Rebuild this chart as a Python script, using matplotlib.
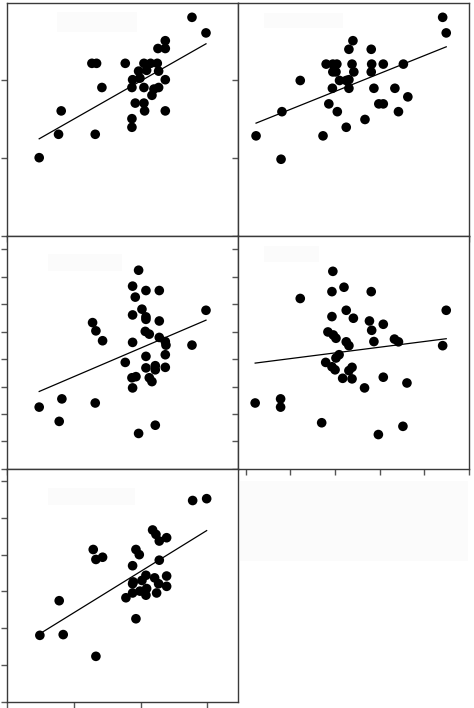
"""Five scatter panels with least-squares lines, 3x2 grid, last cell empty."""
import matplotlib
matplotlib.use("Agg")
import matplotlib.pyplot as plt  # noqa: E402
import numpy as np
from matplotlib.patches import Rectangle

# --- data (axis units: tick spacing = 1) ---
p1_x = [2.77, 2.98, 2.37, 2.26, 2.37, 1.27, 1.34, 1.77, 2.05, 2.15, 2.25,
        1.97, 2.09, 2.27, 1.88, 1.99, 2.37, 1.42, 1.87, 2.05, 2.27, 2.20,
        2.17, 1.92, 2.05, 0.81, 2.06, 2.37, 1.87, 1.87, 0.77, 1.32, 0.48]
p1_y = [2.80, 2.60, 2.50, 2.40, 2.40, 2.21, 2.21, 2.21, 2.21, 2.21, 2.21,
        2.11, 2.12, 2.11, 2.00, 2.02, 2.00, 1.90, 1.90, 1.90, 1.90, 1.88,
        1.80, 1.70, 1.70, 1.60, 1.60, 1.60, 1.50, 1.39, 1.30, 1.30, 1.00]

p2_x = [4.41, 4.49, 2.40, 2.31, 2.81, 1.80, 1.95, 2.04, 2.38, 2.82, 3.08,
        3.53, 1.95, 2.02, 2.42, 2.81, 1.22, 2.10, 2.25, 2.31, 1.94, 2.31,
        2.87, 3.34, 3.63, 1.86, 2.98, 3.08, 0.81, 2.05, 3.42, 2.67, 2.25,
        0.23, 1.73, 0.79]
p2_y = [2.80, 2.60, 2.50, 2.39, 2.39, 2.20, 2.20, 2.20, 2.20, 2.20, 2.20,
        2.20, 2.10, 2.10, 2.10, 2.10, 1.99, 1.99, 1.99, 2.00, 1.89, 1.89,
        1.89, 1.89, 1.78, 1.69, 1.69, 1.69, 1.59, 1.59, 1.59, 1.49, 1.39,
        1.28, 1.28, 0.98]

p3_x = [1.97, 1.88, 2.08, 2.28, 1.92, 2.98, 2.02, 1.88, 2.08, 2.08, 2.28,
        1.28, 1.33, 2.07, 2.13, 1.43, 1.88, 2.28, 2.37, 2.38, 2.77, 2.08,
        2.37, 1.77, 2.22, 2.22, 2.08, 2.37, 1.93, 1.87, 2.13, 2.17, 1.88,
        0.82, 0.48, 1.32, 0.78, 1.97, 2.22]
p3_y = [7.24, 6.66, 6.50, 6.50, 6.26, 5.78, 5.82, 5.61, 5.54, 5.45, 5.39,
        5.33, 5.03, 5.01, 4.91, 4.67, 4.61, 4.79, 4.64, 4.51, 4.51, 4.10,
        4.16, 3.88, 3.76, 3.61, 3.68, 3.70, 3.36, 3.32, 3.32, 3.18, 2.95,
        2.55, 2.25, 2.40, 1.73, 1.29, 1.59]

p4_x = [1.95, 1.93, 2.20, 2.81, 1.22, 4.49, 2.25, 1.93, 2.41, 2.77, 3.08,
        2.82, 1.84, 1.96, 2.02, 2.25, 2.31, 2.87, 3.33, 3.42, 4.41, 2.09,
        2.02, 1.79, 1.93, 2.00, 2.38, 2.31, 2.17, 2.38, 3.08, 3.61, 2.66,
        0.21, 0.78, 0.78, 1.70, 3.52, 2.97]
p4_y = [7.20, 6.46, 6.62, 6.46, 6.21, 5.78, 5.78, 5.55, 5.49, 5.39, 5.27,
        5.05, 4.99, 4.88, 4.76, 4.63, 4.49, 4.64, 4.73, 4.63, 4.49, 4.16,
        4.04, 3.88, 3.72, 3.61, 3.70, 3.58, 3.30, 3.28, 3.34, 3.13, 2.95,
        2.40, 2.55, 2.25, 1.68, 1.55, 1.25]

p5_x = [2.78, 2.99, 2.18, 2.23, 2.39, 2.28, 1.29, 1.93, 1.98, 1.33, 1.43,
        2.28, 1.88, 2.08, 2.21, 2.39, 2.02, 1.89, 1.88, 2.27, 2.39, 2.09,
        1.99, 1.88, 1.78, 2.08, 2.24, 0.78, 1.93, 0.49, 0.84, 1.33]
p5_y = [5.47, 5.52, 4.67, 4.55, 4.46, 4.37, 4.14, 4.14, 4.00, 3.87, 3.93,
        3.85, 3.70, 3.44, 3.37, 3.42, 3.30, 3.26, 3.21, 3.21, 3.14, 3.08,
        3.01, 2.96, 2.83, 2.90, 2.96, 2.75, 2.26, 1.81, 1.83, 1.24]

left_xticks = [0, 1, 2, 3]
right_xticks = [0, 1, 2, 3, 4, 5]

W, H = 474, 708
_SPINE = "#3a3a3a"
_TICK = "#555555"

fig, axes = plt.subplots(3, 2, figsize=(W / 100, H / 100), dpi=100)
fig.subplots_adjust(left=6.5 / W, right=469 / W, top=1 - 2.5 / H,
                    bottom=1 - 702 / H, wspace=0, hspace=0)

panels = [
    (axes[0, 0], p1_x, p1_y, (-0.01, 3.456), left_xticks, (0, 2.99), [0, 1, 2]),
    (axes[0, 1], p2_x, p2_y, (-0.18, 5.0), right_xticks, (0, 2.99), [0, 1, 2]),
    (axes[1, 0], p3_x, p3_y, (-0.01, 3.456), left_xticks, (0.02, 8.5), list(range(9))),
    (axes[1, 1], p4_x, p4_y, (-0.18, 5.0), right_xticks, (0.02, 8.5), list(range(9))),
    (axes[2, 0], p5_x, p5_y, (-0.01, 3.456), left_xticks, (0, 6.33), list(range(7))),
]

for ax, xs, ys, xlim, xt, ylim, yt in panels:
    xs = np.asarray(xs)
    ys = np.asarray(ys)
    ax.scatter(xs, ys, s=48, color="black", edgecolor="none", zorder=3)
    b, a = np.polyfit(xs, ys, 1)
    lx = np.array([xs.min(), xs.max()])
    ax.plot(lx, a + b * lx, color="black", lw=0.9, zorder=2)
    ax.set_xlim(*xlim)
    ax.set_ylim(*ylim)
    ax.set_xticks(xt)
    ax.set_yticks(yt)
    ax.set_xticklabels([])
    ax.set_yticklabels([])
    ax.tick_params(direction="out", length=4, width=1, color=_TICK)
    for sp in ax.spines.values():
        sp.set_color(_SPINE)
        sp.set_linewidth(1.0)

axes[2, 1].axis("off")

# faint blotches where panel labels were blurred out (pixel boxes)
for x0, y0, x1, y1 in [(57, 12, 137, 32), (264, 13, 343, 28), (48, 254, 122, 271),
                       (264, 246, 319, 262), (48, 488, 135, 505), (240, 481, 468, 561)]:
    fig.patches.append(Rectangle((x0 / W, 1 - y1 / H), (x1 - x0) / W, (y1 - y0) / H,
                                 transform=fig.transFigure, color="#fbfbfb",
                                 zorder=0.5, lw=0))

fig.savefig("out.png", dpi=100)
plt.close(fig)
